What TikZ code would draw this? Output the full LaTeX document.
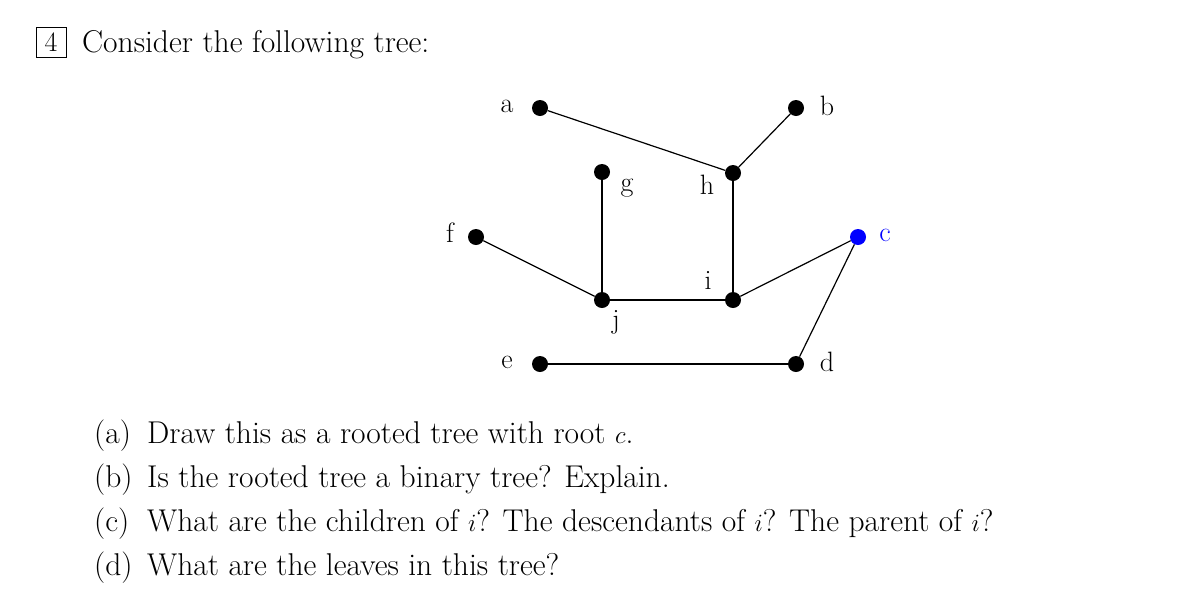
\documentclass[tikz,border=0pt]{standalone}
\begin{document}
\begin{tikzpicture}[x=1pt,y=-1pt,
  dot/.style={circle,fill=black,inner sep=0pt,minimum size=16pt},
  lab/.style={font=\fontsize{28}{32}\selectfont,inner sep=0pt},
  txt/.style={font=\fontsize{31.5}{36}\selectfont,inner sep=0pt,anchor=base west},
  edge/.style={line width=1.2pt}]
\useasboundingbox (0,0) rectangle (1180,606);
\node[draw,line width=0.8pt,inner sep=3pt,minimum width=30pt,minimum height=30pt,font=\fontsize{28}{32}\selectfont] (box) at (51,42) {4};
\node[txt] (title) at (82,52) {Consider the following tree:};
\node[dot] (a) at (540,108) {};
\node[dot] (b) at (796,108) {};
\node[dot] (h) at (733,173) {};
\node[dot] (g) at (602,172) {};
\node[dot] (f) at (476,237) {};
\node[dot,fill=blue] (c) at (858,237) {};
\node[dot] (j) at (602,300) {};
\node[dot] (i) at (733,300) {};
\node[dot] (e) at (540,364) {};
\node[dot] (d) at (796,364) {};
\node[lab] (la) at (507,106) {a};
\node[lab] (lb) at (827,106) {b};
\node[lab] (lg) at (627,188) {g};
\node[lab] (lh) at (707,185) {h};
\node[lab] (lf) at (450,233) {f};
\node[lab,text=blue] (lc) at (885,235) {c};
\node[lab] (li) at (708,280) {i};
\node[lab] (lj) at (616,322) {j};
\node[lab] (le) at (507,362) {e};
\node[lab] (ld) at (827,362) {d};
\draw[edge] (a)--(h); \draw[edge] (b)--(h); \draw[edge] (h)--(i);
\draw[edge] (g)--(j); \draw[edge] (f)--(j); \draw[edge] (j)--(i);
\draw[edge] (i)--(c); \draw[edge] (c)--(d); \draw[edge] (e)--(d);
\node[txt] (pa) at (94,443) {(a)}; \node[txt] (ta) at (147,443) {Draw this as a rooted tree with root $c$.};
\node[txt] (pb) at (94,487) {(b)}; \node[txt] (tb) at (147,487) {Is the rooted tree a binary tree? Explain.};
\node[txt] (pc) at (94,531) {(c)}; \node[txt] (tc) at (147,531) {What are the children of $i$? The descendants of $i$? The parent of $i$?};
\node[txt] (pd) at (94,575) {(d)}; \node[txt] (td) at (147,575) {What are the leaves in this tree?};
\end{tikzpicture}
\end{document}
